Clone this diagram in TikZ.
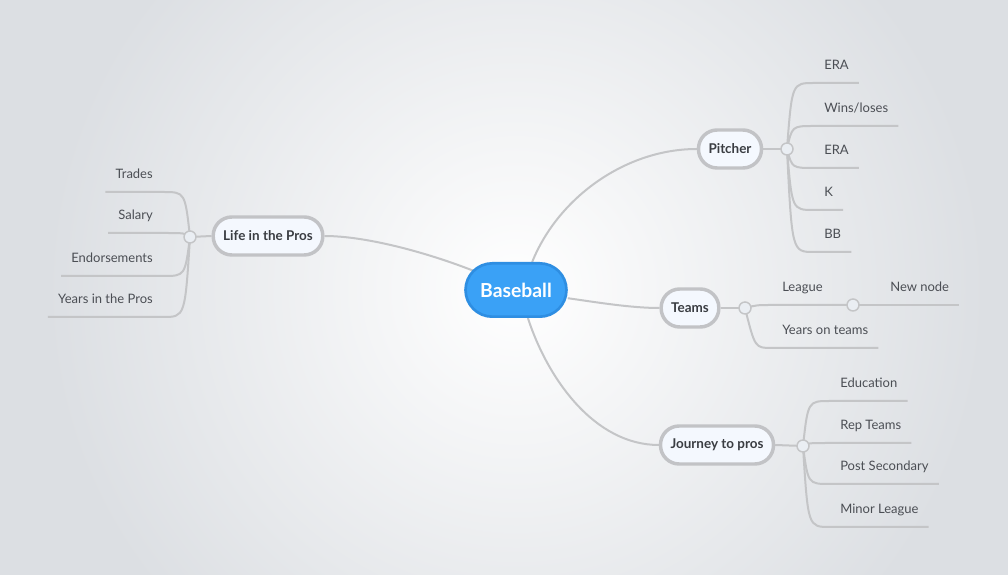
\documentclass[tikz,border=0pt]{standalone}
\usepackage{fontspec}
\setmainfont{Lato}
\usetikzlibrary{calc}

\definecolor{bgc}{HTML}{DCDFE3}
\definecolor{linec}{HTML}{C4C5C7}
\definecolor{rootfill}{HTML}{3AA1F6}
\definecolor{rootdraw}{HTML}{2E8EE2}
\definecolor{topicfill}{HTML}{F4F8FE}
\definecolor{topicdraw}{HTML}{C2C3C6}
\definecolor{labelc}{HTML}{4B4E54}
\definecolor{topictext}{HTML}{3A3D42}

\pgfdeclarelayer{back}
\pgfdeclarelayer{lines}
\pgfsetlayers{back,lines,main}

\tikzset{
  root/.style={rectangle, rounded corners=20pt, fill=rootfill, draw=rootdraw, line width=2pt,
    minimum height=40pt, inner xsep=11pt, text=white, font=\fontsize{14.5}{17}\selectfont\bfseries},
  topic/.style={rectangle, rounded corners=14pt, fill=topicfill, draw=topicdraw, line width=2.6pt,
    minimum height=28.5pt, inner xsep=7.5pt, text=topictext, font=\fontsize{10.1}{12}\selectfont\bfseries},
  hub/.style={circle, fill=topicfill!60!bgc, draw=linec, line width=1.1pt, minimum size=9pt, inner sep=0pt},
  leaf/.style={text=labelc, font=\fontsize{9.75}{12}\selectfont, inner xsep=7.5pt,
    inner ysep=9.75pt, text height=7pt, text depth=0pt},
  link/.style={draw=linec, line width=1.5pt}
}

\begin{document}
\begin{tikzpicture}[x=0.75pt, y=0.75pt]
	\useasboundingbox (0,0) rectangle (1008,575);

	\begin{pgfonlayer}{back}
		\fill [bgc] (0,0) rectangle (1008,575);
		\shade [inner color=white, outer color=bgc] (516,285) circle (470);
	\end{pgfonlayer}

	% central topic and main branches
	\node [root] (base) at (516,285) {Baseball};
	\node [topic] (pitcher) at (730,426) {Pitcher};
	\node [topic] (life) at (268,339) {Life in the Pros};
	\node [topic] (teams) at (690,267) {Teams};
	\node [topic] (journey) at (717,130) {Journey to pros};

	\node [hub] (pc) at (787,426) {};
	\node [hub] (lc) at (190,338) {};
	\node [hub] (tc) at (745,267) {};
	\node [hub] (tc2) at (853,270) {};
	\node [hub] (jc) at (803,129) {};

	% leaves of Pitcher
	\node [leaf, anchor=south west] (p1) at (814,492) {ERA};
	\node [leaf, anchor=south west] (p2) at (814,449) {Wins/loses};
	\node [leaf, anchor=south west] (p3) at (814,407) {ERA};
	\node [leaf, anchor=south west] (p4) at (814,365) {K};
	\node [leaf, anchor=south west] (p5) at (814,323) {BB};

	% leaves of Life in the Pros
	\node [leaf, anchor=south east] (l1) at (163,383) {Trades};
	\node [leaf, anchor=south east] (l2) at (163,342) {Salary};
	\node [leaf, anchor=south east] (l3) at (163,299) {Endorsements};
	\node [leaf, anchor=south east] (l4) at (163,258) {Years in the Pros};

	% leaves of Teams
	\node [leaf, anchor=south west] (t1) at (772,270) {League};
	\node [leaf, anchor=south west] (t2) at (880,270) {New node};
	\node [leaf, anchor=south west] (t3) at (772,227) {Years on teams};

	% leaves of Journey to pros
	\node [leaf, anchor=south west] (j1) at (830,174) {Education};
	\node [leaf, anchor=south west] (j2) at (830,132) {Rep Teams};
	\node [leaf, anchor=south west] (j3) at (830,91) {Post Secondary};
	\node [leaf, anchor=south west] (j4) at (830,48) {Minor League};

	\begin{pgfonlayer}{lines}
		\draw [link] (base.60) to [out=68, in=180, looseness=0.9] (pitcher.west);
		\draw [link] (base.center) to [out=152, in=0, looseness=0.7] (life.east);
		\draw [link] (base.-9) to [out=-8, in=180, looseness=0.8] (teams.west);
		\draw [link] (base.-67) to [out=-72, in=180, looseness=0.9] (journey.west);

		\draw [link] (pitcher.east) -- (pc.center);
		\draw [link] (life.west) -- (lc.center);
		\draw [link] (teams.east) -- (tc.center);
		\draw [link] (journey.east) -- (jc.center);

		\foreach \leaf in {p1,p2,p3,p4,p5}
			\draw [link] (pc.center) .. controls ($(pc |- \leaf.south west)+(5,0)$) .. (\leaf.south west) -- (\leaf.south east);
		\foreach \leaf in {l1,l2,l3,l4}
			\draw [link] (lc.center) .. controls ($(lc |- \leaf.south east)+(-5,0)$) .. (\leaf.south east) -- (\leaf.south west);
		\foreach \leaf in {j1,j2,j3,j4}
			\draw [link] (jc.center) .. controls ($(jc |- \leaf.south west)+(5,0)$) .. (\leaf.south west) -- (\leaf.south east);

		\draw [link] (tc.center) .. controls (757,270) .. (t1.south west) -- (t1.south east) -- (tc2.center);
		\draw [link] (tc2.center) -- (t2.south west) -- (t2.south east);
		\draw [link] (tc.center) .. controls (755,227) .. (t3.south west) -- (t3.south east);
	\end{pgfonlayer}
\end{tikzpicture}
\end{document}
